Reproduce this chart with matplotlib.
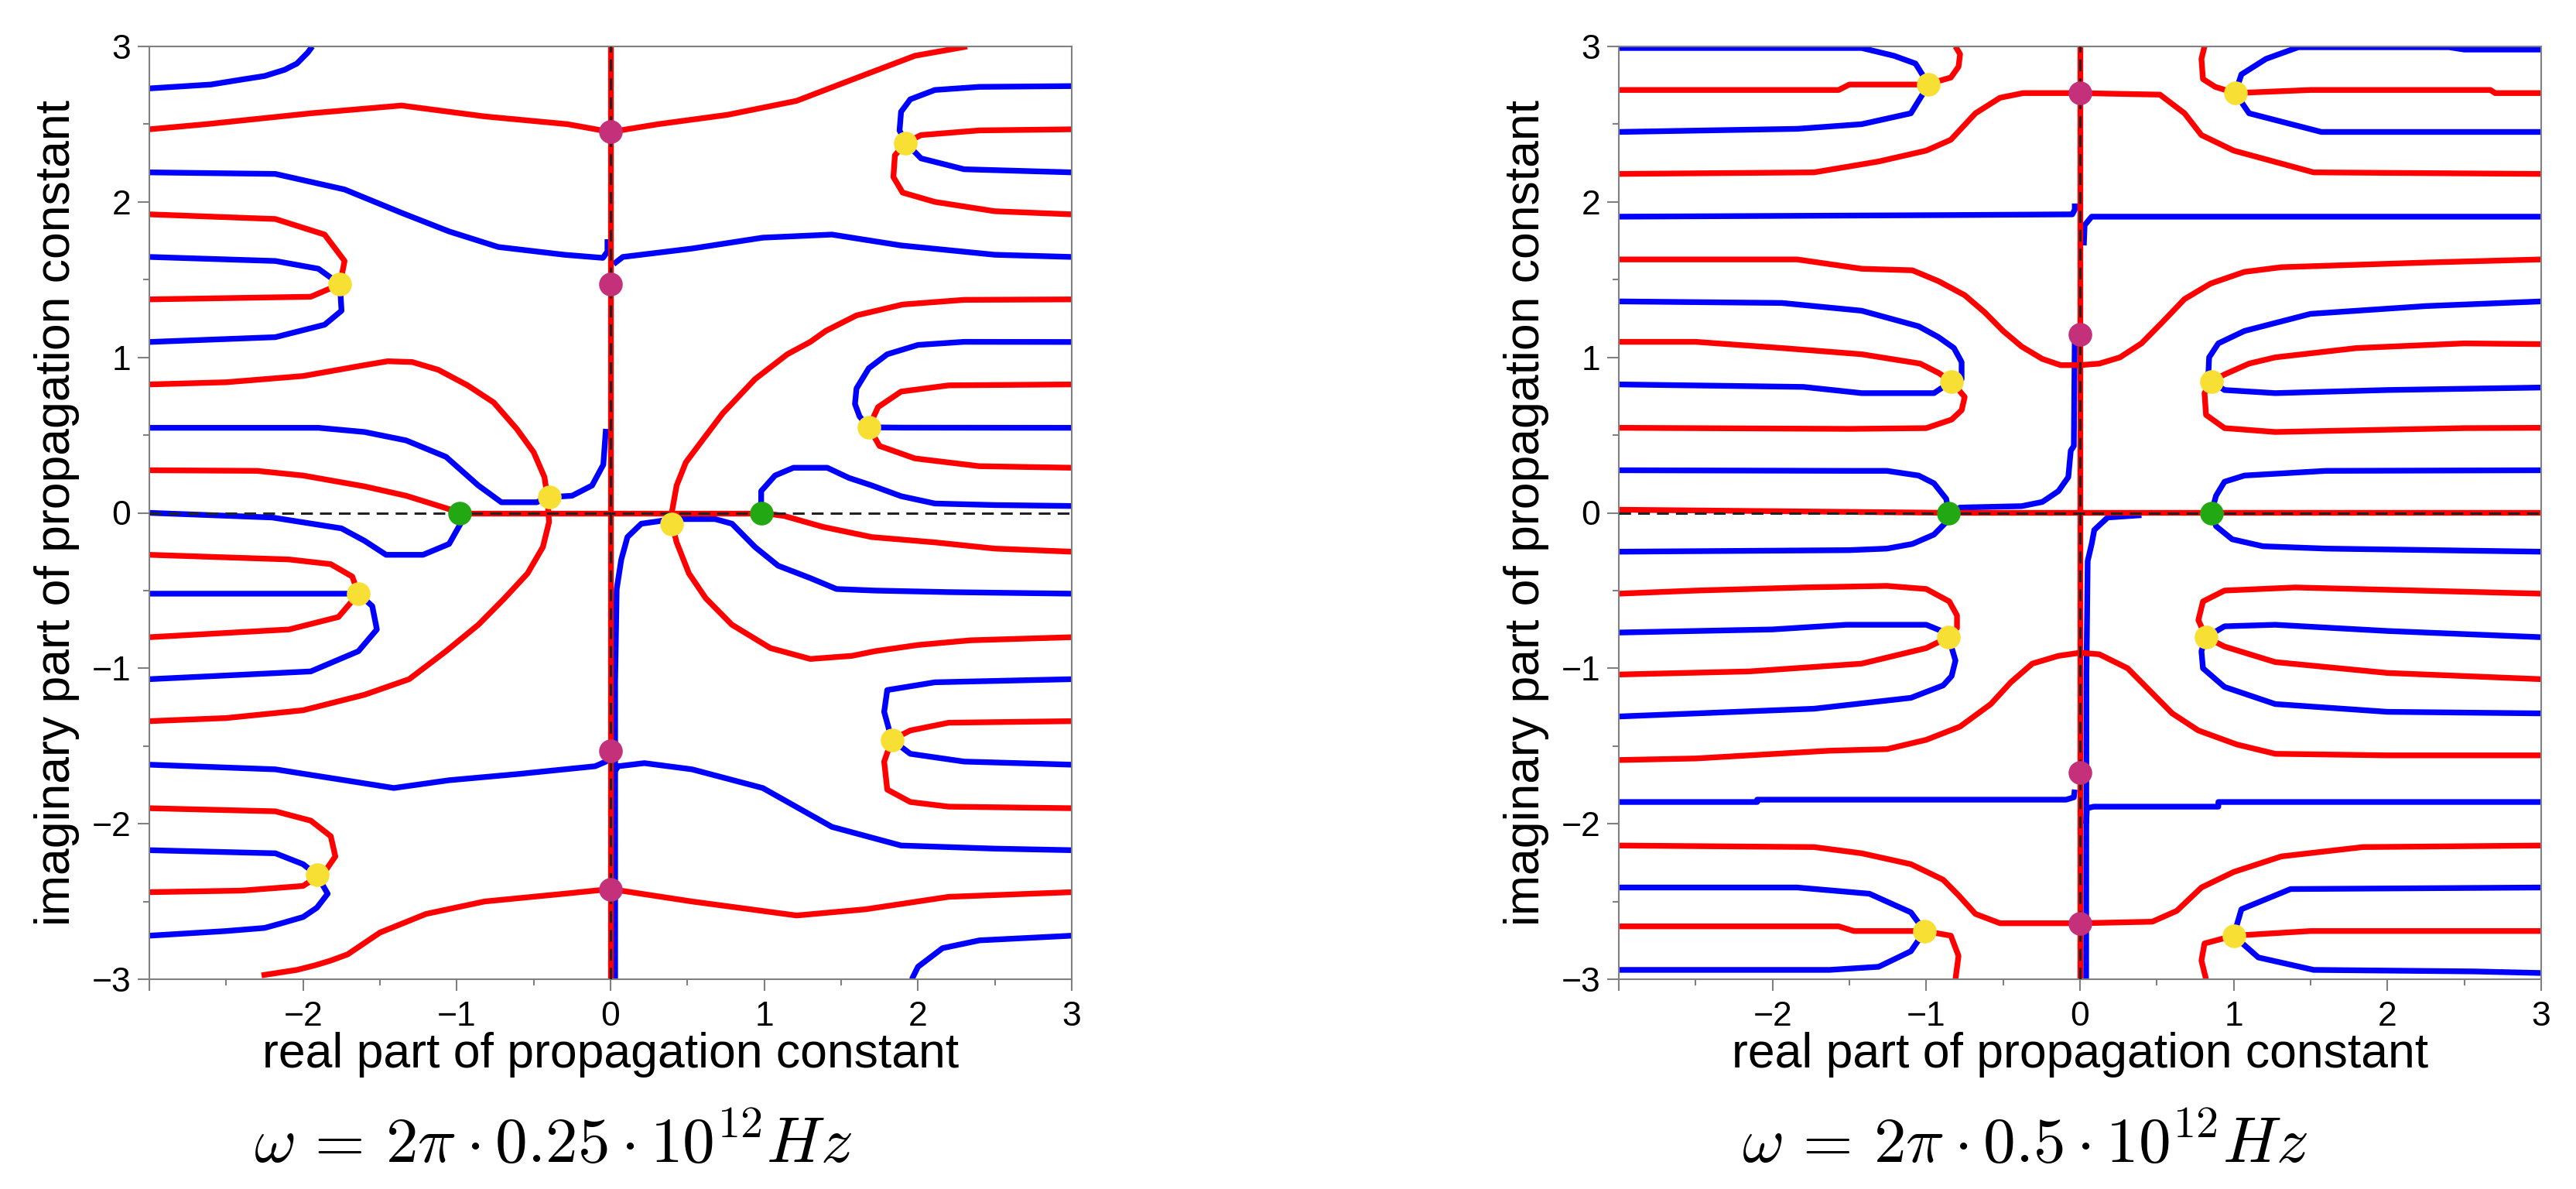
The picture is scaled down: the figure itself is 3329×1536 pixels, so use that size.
import numpy as np
import matplotlib
matplotlib.use("Agg")
import matplotlib.pyplot as plt
from matplotlib.ticker import MultipleLocator

plt.rcParams['font.family'] = ['Liberation Sans', 'DejaVu Sans']
plt.rcParams['mathtext.fontset'] = 'cm'

RED = '#ff0000'
BLUE = '#0000ff'
YELLOW = '#f7df33'
GREEN = '#22a812'
MAGENTA = '#c4307a'

# ---- left panel, omega = 2pi * 0.25 THz : zero lines of Re (red) and Im (blue) ----
left_red = [
    ([-3, -2.63, -1.95, -1.36, -0.82, -0.28, 0, 0.31, 0.76, 1.21, 1.66, 1.98, 2.32],
     [2.467, 2.50, 2.57, 2.62, 2.55, 2.50, 2.45, 2.50, 2.56, 2.65, 2.82, 2.94, 3.0]),
    ([3, 2.4, 2.02, 1.92, 1.85, 1.84, 1.9, 2.11, 2.5, 3],
     [2.467, 2.46, 2.43, 2.38, 2.30, 2.16, 2.06, 2.0, 1.94, 1.92]),
    ([-3, -2.18, -1.86, -1.73, -1.76, -1.95, -3],
     [1.92, 1.89, 1.79, 1.62, 1.47, 1.39, 1.373]),
    ([-3, -2.5, -2.0, -1.6, -1.45, -1.29, -1.12, -0.93, -0.76, -0.61, -0.5, -0.43, -0.41,
      -0.40, -0.44, -0.54, -0.69, -0.86, -1.07, -1.31, -1.6, -2.0, -2.5, -3],
     [0.826, 0.84, 0.88, 0.95, 0.975, 0.97, 0.92, 0.82, 0.71, 0.54, 0.39, 0.23, 0.10,
      -0.06, -0.22, -0.39, -0.55, -0.72, -0.89, -1.07, -1.17, -1.27, -1.32, -1.34]),
    ([-3, -2.3, -2.0, -1.6, -1.33, -1.07, -0.98],
     [0.274, 0.27, 0.24, 0.17, 0.11, 0.03, 0.0]),
    ([-3, -2.09, -1.82, -1.68, -1.64, -1.77, -2.09, -3],
     [-0.27, -0.30, -0.33, -0.41, -0.52, -0.67, -0.75, -0.80]),
    ([3, 2.3, 1.9, 1.6, 1.4, 1.3, 1.15, 0.94, 0.73, 0.6, 0.49, 0.43, 0.4, 0.4, 0.43, 0.51,
      0.62, 0.79, 1.04, 1.3, 1.57, 1.72, 2.0, 2.34, 3],
     [1.373, 1.37, 1.34, 1.27, 1.17, 1.10, 1.02, 0.86, 0.64, 0.47, 0.325, 0.176, 0.01, -0.07,
      -0.19, -0.39, -0.55, -0.72, -0.87, -0.94, -0.92, -0.89, -0.85, -0.82, -0.80]),
    ([3, 2.2, 1.89, 1.74, 1.68, 1.75, 1.98, 2.4, 3],
     [0.826, 0.82, 0.78, 0.68, 0.55, 0.43, 0.35, 0.30, 0.29]),
    ([0.98, 1.13, 1.38, 1.7, 2.11, 2.5, 3],
     [0.0, -0.02, -0.09, -0.156, -0.19, -0.23, -0.25]),
    ([3, 2.2, 1.95, 1.83, 1.78, 1.8, 1.95, 2.2, 3],
     [-1.34, -1.35, -1.40, -1.46, -1.6, -1.78, -1.86, -1.89, -1.90]),
    ([-3, -2.18, -1.95, -1.82, -1.79, -1.86, -2.0, -2.4, -3],
     [-1.90, -1.92, -1.98, -2.08, -2.21, -2.31, -2.40, -2.43, -2.44]),
    ([-2.27, -2.04, -1.92, -1.82, -1.71, -1.5, -1.2, -0.82, -0.3, 0, 0.53, 1.21, 1.66, 2.2, 3],
     [-2.975, -2.94, -2.91, -2.88, -2.84, -2.70, -2.58, -2.50, -2.45, -2.42, -2.50, -2.59,
      -2.55, -2.47, -2.44]),
    ([-0.98, 0.98], [0.0, 0.0]),
    ([0, 0], [-3, 3]),
]
left_blue = [
    ([-3, -2.6, -2.38, -2.25, -2.12, -2.04, -1.97, -1.94],
     [2.73, 2.755, 2.79, 2.81, 2.85, 2.89, 2.96, 3.0]),
    ([-3, -2.18, -1.73, -1.36, -1.05, -0.73, -0.3, -0.05, -0.02, -0.02],
     [2.19, 2.18, 2.08, 1.93, 1.81, 1.71, 1.66, 1.64, 1.68, 1.76]),
    ([0.02, 0.08, 0.53, 0.99, 1.44, 1.89, 2.5, 3],
     [1.60, 1.646, 1.70, 1.77, 1.79, 1.72, 1.66, 1.646]),
    ([3, 2.4, 2.11, 1.95, 1.89, 1.88, 1.92, 2.02, 2.3, 3],
     [2.745, 2.74, 2.72, 2.66, 2.58, 2.46, 2.38, 2.28, 2.21, 2.19]),
    ([-3, -2.18, -1.9, -1.76, -1.75, -1.86, -2.18, -3],
     [1.646, 1.62, 1.57, 1.47, 1.30, 1.21, 1.13, 1.099]),
    ([-3, -1.9, -1.6, -1.33, -1.07, -0.86, -0.71, -0.48, -0.41, -0.25, -0.12, -0.047, -0.03],
     [0.547, 0.547, 0.52, 0.466, 0.36, 0.176, 0.068, 0.068, 0.10, 0.11, 0.176, 0.31, 0.54]),
    ([3, 2.3, 2.0, 1.8, 1.68, 1.6, 1.59, 1.62, 1.68, 1.9, 3],
     [1.099, 1.10, 1.08, 1.02, 0.93, 0.80, 0.70, 0.62, 0.55, 0.548, 0.547]),
    ([0.98, 0.98, 1.07, 1.19, 1.41, 1.55, 1.7, 1.89, 2.11, 2.5, 3],
     [0.0, 0.14, 0.24, 0.29, 0.29, 0.225, 0.176, 0.107, 0.06, 0.05, 0.044]),
    ([3, 2.2, 1.72, 1.47, 1.3, 1.09, 0.94, 0.79, 0.68, 0.4, 0.3, 0.2, 0.11, 0.07, 0.04, 0.03, 0.03],
     [-0.52, -0.51, -0.50, -0.49, -0.42, -0.34, -0.22, -0.07, -0.04, -0.04, -0.056, -0.07,
      -0.156, -0.3, -0.49, -1.08, -3.0]),
    ([-3, -2.2, -1.75, -1.6, -1.46, -1.22, -1.05, -0.97, -0.98],
     [0.0, -0.03, -0.1, -0.18, -0.27, -0.27, -0.2, -0.06, 0.0]),
    ([-3, -1.9, -1.64, -1.55, -1.52, -1.64, -1.95, -3],
     [-0.52, -0.52, -0.52, -0.60, -0.75, -0.89, -1.02, -1.07]),
    ([-3, -2.18, -1.73, -1.41, -1.05, -0.6, -0.1, -0.03, -0.02],
     [-1.62, -1.65, -1.72, -1.77, -1.72, -1.68, -1.63, -1.60, -1.53]),
    ([0.03, 0.05, 0.22, 0.53, 0.99, 1.44, 1.89, 2.5, 3],
     [-1.66, -1.63, -1.61, -1.65, -1.77, -2.02, -2.14, -2.16, -2.17]),
    ([3, 2.11, 1.8, 1.78, 1.83, 1.95, 2.3, 3],
     [-1.07, -1.09, -1.14, -1.28, -1.46, -1.55, -1.60, -1.62]),
    ([-3, -2.18, -2.0, -1.91, -1.84, -1.91, -2.0, -2.14, -2.25, -2.5, -3],
     [-2.17, -2.19, -2.26, -2.33, -2.45, -2.54, -2.60, -2.64, -2.67, -2.69, -2.72]),
    ([1.96, 2.0, 2.16, 2.4, 3],
     [-3.0, -2.92, -2.80, -2.75, -2.72]),
]
left_yellow_x = [1.92, -1.76, 1.68, -0.40, 0.40, -1.64, 1.83, -1.91]
left_yellow_y = [2.38, 1.47, 0.55, 0.10, -0.07, -0.52, -1.46, -2.33]
left_magenta_x = [0, 0, 0, 0]
left_magenta_y = [2.45, 1.47, -1.53, -2.42]
left_green_x = [-0.98, 0.98]
left_green_y = [0, 0]

# ---- right panel, omega = 2pi * 0.5 THz ----
right_red = [
    ([-3, -1.57, -1.5, -1.0, -0.84, -0.79, -0.78, -0.81],
     [2.72, 2.72, 2.755, 2.755, 2.80, 2.87, 2.95, 3.0]),
    ([-3, -1.73, -1.31, -1.0, -0.84, -0.68, -0.52, -0.37, 0, 0.52, 0.68, 0.79, 1.0, 1.52, 3],
     [2.18, 2.19, 2.26, 2.33, 2.40, 2.57, 2.67, 2.70, 2.70, 2.69, 2.57, 2.43, 2.33, 2.19, 2.18]),
    ([0.81, 0.79, 0.80, 0.88, 1.01, 1.5, 2.67, 2.7, 3],
     [3.0, 2.92, 2.79, 2.74, 2.70, 2.72, 2.72, 2.70, 2.70]),
    ([-3, -1.84, -1.42, -1.09, -0.92, -0.75, -0.62, -0.5, -0.38, -0.245, -0.126, 0, 0.126,
      0.26, 0.4, 0.53, 0.68, 0.85, 1.07, 1.31, 2.25, 3],
     [1.63, 1.63, 1.57, 1.56, 1.49, 1.40, 1.29, 1.17, 1.07, 0.99, 0.95, 0.95, 0.96, 1.0,
      1.09, 1.22, 1.375, 1.475, 1.55, 1.58, 1.61, 1.63]),
    ([-3, -2.5, -1.94, -1.42, -1.04, -0.92, -0.835, -0.75, -0.77, -0.835, -1.0, -1.5, -3],
     [1.10, 1.10, 1.06, 1.02, 0.96, 0.90, 0.845, 0.745, 0.66, 0.60, 0.545, 0.54, 0.547]),
    ([3, 2.5, 1.8, 1.27, 1.1, 0.94, 0.855, 0.81, 0.82, 0.94, 1.27, 2.5, 3],
     [1.085, 1.09, 1.06, 1.0, 0.96, 0.89, 0.845, 0.77, 0.63, 0.545, 0.52, 0.545, 0.547]),
    ([-3, -0.855, 0.855, 3], [0.02, 0.0, 0.0, 0.0]),
    ([-3, -2.5, -1.8, -1.256, -1.0, -0.85, -0.80, -0.80, -0.855, -1.0, -1.42, -2.15, -3],
     [-0.52, -0.50, -0.48, -0.47, -0.49, -0.57, -0.66, -0.74, -0.80, -0.87, -0.97, -1.02, -1.04]),
    ([3, 2.2, 1.4, 0.94, 0.80, 0.77, 0.82, 0.94, 1.27, 2.0, 3],
     [-0.52, -0.50, -0.48, -0.50, -0.57, -0.69, -0.80, -0.86, -0.96, -1.03, -1.07]),
    ([-3, -2.5, -1.63, -1.256, -1.0, -0.78, -0.58, -0.45, -0.31, -0.14, 0, 0.126, 0.31, 0.46,
      0.6, 0.77, 1.02, 1.27, 2.0, 3],
     [-1.59, -1.58, -1.53, -1.52, -1.46, -1.375, -1.23, -1.09, -0.97, -0.92, -0.90, -0.91,
      -1.0, -1.15, -1.29, -1.40, -1.49, -1.55, -1.56, -1.56]),
    ([-3, -1.73, -1.42, -1.1, -0.89, -0.79, -0.68, -0.52, 0, 0.47, 0.63, 0.79, 1.0, 1.31, 1.84, 3],
     [-2.14, -2.15, -2.19, -2.26, -2.36, -2.46, -2.58, -2.64, -2.64, -2.63, -2.56, -2.41,
      -2.31, -2.21, -2.15, -2.14]),
    ([-3, -1.57, -1.47, -1.01, -0.84, -0.79, -0.81],
     [-2.66, -2.66, -2.69, -2.69, -2.72, -2.85, -3.0]),
    ([0.82, 0.79, 0.81, 1.0, 1.5, 2.6, 3],
     [-3.0, -2.88, -2.77, -2.72, -2.69, -2.69, -2.69]),
    ([0, 0], [-3, 3]),
]
right_blue = [
    ([-3, -1.42, -1.21, -1.07, -0.985, -1.1, -1.42, -1.84, -3],
     [2.99, 2.99, 2.94, 2.89, 2.755, 2.57, 2.50, 2.47, 2.45]),
    ([3, 2.5, 2.4, 1.42, 1.21, 1.05, 1.01, 1.1, 1.57, 3],
     [2.98, 2.98, 2.995, 2.995, 2.92, 2.82, 2.70, 2.57, 2.45, 2.45]),
    ([-3, -0.9, -0.05, -0.034, -0.034],
     [1.905, 1.915, 1.92, 1.95, 1.99]),
    ([0.025, 0.03, 0.076, 1.4, 3],
     [1.72, 1.85, 1.905, 1.905, 1.905]),
    ([-0.855, -0.78, -0.38, -0.245, -0.14, -0.076, -0.06, -0.04, -0.034, -0.034],
     [0.0, 0.034, 0.043, 0.07, 0.14, 0.23, 0.40, 0.43, 1.12, 1.15]),
    ([-3, -1.94, -1.42, -1.05, -0.92, -0.82, -0.77, -0.77, -0.835, -0.95, -1.42, -1.8, -3],
     [1.36, 1.35, 1.30, 1.20, 1.13, 1.06, 0.97, 0.86, 0.845, 0.77, 0.77, 0.81, 0.826]),
    ([3, 2.25, 1.5, 1.07, 0.9, 0.84, 0.835, 0.855, 0.94, 1.27, 2.0, 3],
     [1.36, 1.33, 1.28, 1.17, 1.09, 1.0, 0.89, 0.845, 0.79, 0.77, 0.79, 0.806]),
    ([-3, -1.5, -1.256, -1.05, -0.95, -0.87, -0.855, -0.87, -0.95, -1.09, -1.256, -1.5, -3],
     [0.274, 0.27, 0.27, 0.24, 0.19, 0.09, 0.0, -0.06, -0.14, -0.20, -0.23, -0.24, -0.25]),
    ([3, 1.6, 1.07, 0.94, 0.885, 0.855, 0.885, 0.99, 1.19, 1.6, 3],
     [0.274, 0.27, 0.24, 0.2, 0.11, 0.0, -0.086, -0.17, -0.215, -0.23, -0.25]),
    ([0.4, 0.18, 0.093, 0.076, 0.05, 0.042, 0.04],
     [-0.015, -0.03, -0.11, -0.2, -0.31, -1.03, -3.0]),
    ([-3, -2.0, -1.52, -1.0, -0.9, -0.855, -0.81, -0.835, -0.89, -1.1, -1.73, -3],
     [-0.77, -0.75, -0.72, -0.72, -0.76, -0.80, -0.95, -1.05, -1.11, -1.19, -1.26, -1.31]),
    ([3, 2.0, 1.27, 0.94, 0.82, 0.79, 0.80, 0.94, 1.27, 2.0, 3],
     [-0.80, -0.76, -0.72, -0.73, -0.80, -0.89, -1.0, -1.12, -1.23, -1.28, -1.29]),
    ([-3, -2.1, -2.1, -0.09, -0.04, -0.034],
     [-1.86, -1.86, -1.845, -1.845, -1.83, -1.78]),
    ([0.04, 0.045, 0.09, 0.9, 0.9, 3],
     [-2.0, -1.9, -1.89, -1.89, -1.86, -1.86]),
    ([-3, -1.84, -1.37, -1.1, -1.01, -1.1, -1.31, -1.63, -3],
     [-2.41, -2.41, -2.45, -2.57, -2.69, -2.82, -2.92, -2.94, -2.94]),
    ([3, 1.37, 1.05, 1.0, 1.16, 1.52, 2.57, 3],
     [-2.41, -2.42, -2.55, -2.72, -2.86, -2.94, -2.95, -2.96]),
]
right_yellow_x = [-0.985, 1.01, -0.835, 0.855, -0.855, 0.82, -1.01, 1.0]
right_yellow_y = [2.755, 2.70, 0.845, 0.845, -0.80, -0.80, -2.69, -2.72]
right_magenta_x = [0, 0, 0, 0]
right_magenta_y = [2.70, 1.15, -1.67, -2.64]
right_green_x = [-0.855, 0.855]
right_green_y = [0, 0]

x_ticks = [-3, -2, -1, 0, 1, 2, 3]
x_tick_labels = ['', '\u22122', '\u22121', '0', '1', '2', '3']
y_ticks = [-3, -2, -1, 0, 1, 2, 3]
y_tick_labels = ['\u22123', '\u22122', '\u22121', '0', '1', '2', '3']
captions = [r'$\omega\, =\, 2\pi \cdot 0.25 \cdot 10^{12} Hz$',
            r'$\omega\, =\, 2\pi \cdot 0.5 \cdot 10^{12} Hz$']

W, H = 3330, 1536
fig = plt.figure(figsize=(W / 100, H / 100), dpi=100)

ax_l = fig.add_axes([193 / W, 1 - 1265 / H, 1192 / W, 1205 / H])
ax_r = fig.add_axes([2092 / W, 1 - 1265 / H, 1192 / W, 1205 / H])

lw = 5.3


def draw_panel(ax, reds, blues, yx, yy, mx, my, gx, gy):
    for xs, ys in blues:
        ax.plot(xs, ys, color=BLUE, lw=lw, solid_capstyle='butt', zorder=2)
    for xs, ys in reds:
        ax.plot(xs, ys, color=RED, lw=lw, solid_capstyle='butt', zorder=2.2)
    ax.axhline(0, color='#222222', lw=2.2, ls=(0, (5, 3)), zorder=3)
    ax.axvline(0, color='#222222', lw=2.2, ls=(0, (5, 3)), zorder=3)
    ax.plot(mx, my, 'o', color=MAGENTA, ms=22, mec='none', zorder=4)
    ax.plot(yx, yy, 'o', color=YELLOW, ms=22, mec='none', zorder=4)
    ax.plot(gx, gy, 'o', color=GREEN, ms=22, mec='none', zorder=4)

    ax.set_xlim(-3, 3)
    ax.set_ylim(-3, 3)
    ax.set_xticks(x_ticks, x_tick_labels)
    ax.set_yticks(y_ticks, y_tick_labels)
    ax.xaxis.set_minor_locator(MultipleLocator(0.5))
    ax.yaxis.set_minor_locator(MultipleLocator(0.5))
    ax.tick_params(which='major', direction='out', length=11, width=1.5,
                   color='#808080', labelsize=32, pad=6)
    ax.tick_params(which='minor', direction='out', length=6, width=1.5, color='#808080')
    ax.tick_params(axis='x', which='major', pad=9)
    for s in ax.spines.values():
        s.set_color('#808080')
        s.set_linewidth(1.5)

    ax.set_xlabel('real part of propagation constant', fontsize=45)
    ax.xaxis.label.set_verticalalignment('center')
    ax.xaxis.set_label_coords(0.5, -0.081)
    ax.set_ylabel('imaginary part of propagation constant', fontsize=45)
    ax.yaxis.label.set_verticalalignment('center')
    ax.yaxis.set_label_coords(-0.1, 0.5)


draw_panel(ax_l, left_red, left_blue, left_yellow_x, left_yellow_y,
           left_magenta_x, left_magenta_y, left_green_x, left_green_y)
draw_panel(ax_r, right_red, right_blue, right_yellow_x, right_yellow_y,
           right_magenta_x, right_magenta_y, right_green_x, right_green_y)

fig.text(715 / W, 1 - 1480 / H, captions[0], fontsize=60, ha='center', va='center')
fig.text(2617 / W, 1 - 1480 / H, captions[1], fontsize=60, ha='center', va='center')

fig.savefig('out.png', dpi=100)
